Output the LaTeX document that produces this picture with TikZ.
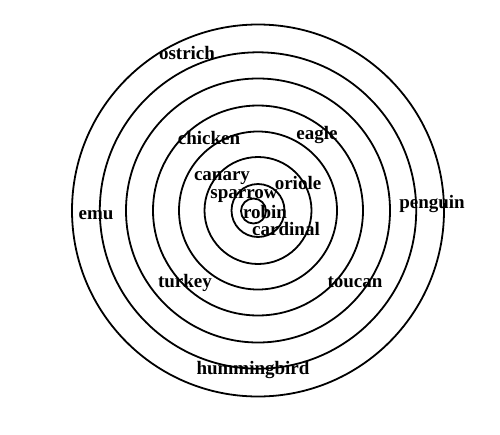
\documentclass[tikz,border=0pt]{standalone}
\usepackage{fontspec}
\setmainfont{Liberation Serif}

\begin{document}
\begin{tikzpicture}[x=1pt, y=-1pt,
  ring/.style={draw=black, line width=1.8pt},
  bird/.style={font=\fontsize{19}{20}\selectfont\bfseries, inner sep=0pt}]
\useasboundingbox (0,0) rectangle (500,434);
\coordinate (c) at (258,210.5);
\coordinate (k) at (253.5,211);

\foreach \r in {186,158.2,132,105,79,53.5,26.5}
  \draw[ring] (c) circle[radius=\r pt];
\draw[ring] (k) circle[radius=12.5pt];

\node[bird] (ostrich) at (187,53) {ostrich};
\node[bird] (chicken) at (209,138) {chicken};
\node[bird] (eagle) at (317,135) {eagle};
\node[bird] (canary) at (222,178) {canary};
\node[bird] (oriole) at (298,183) {oriole};
\node[bird] (sparrow) at (244,196.5) {sparrow};
\node[bird] (robin) at (265,212) {robin};
\node[bird] (cardinal) at (286,229) {cardinal};
\node[bird] (emu) at (96,215) {emu};
\node[bird] (penguin) at (432,204) {penguin};
\node[bird] (turkey) at (185,283) {turkey};
\node[bird] (toucan) at (355,282) {toucan};
\node[bird] (hummingbird) at (253,370) {hummingbird};
\end{tikzpicture}
\end{document}
